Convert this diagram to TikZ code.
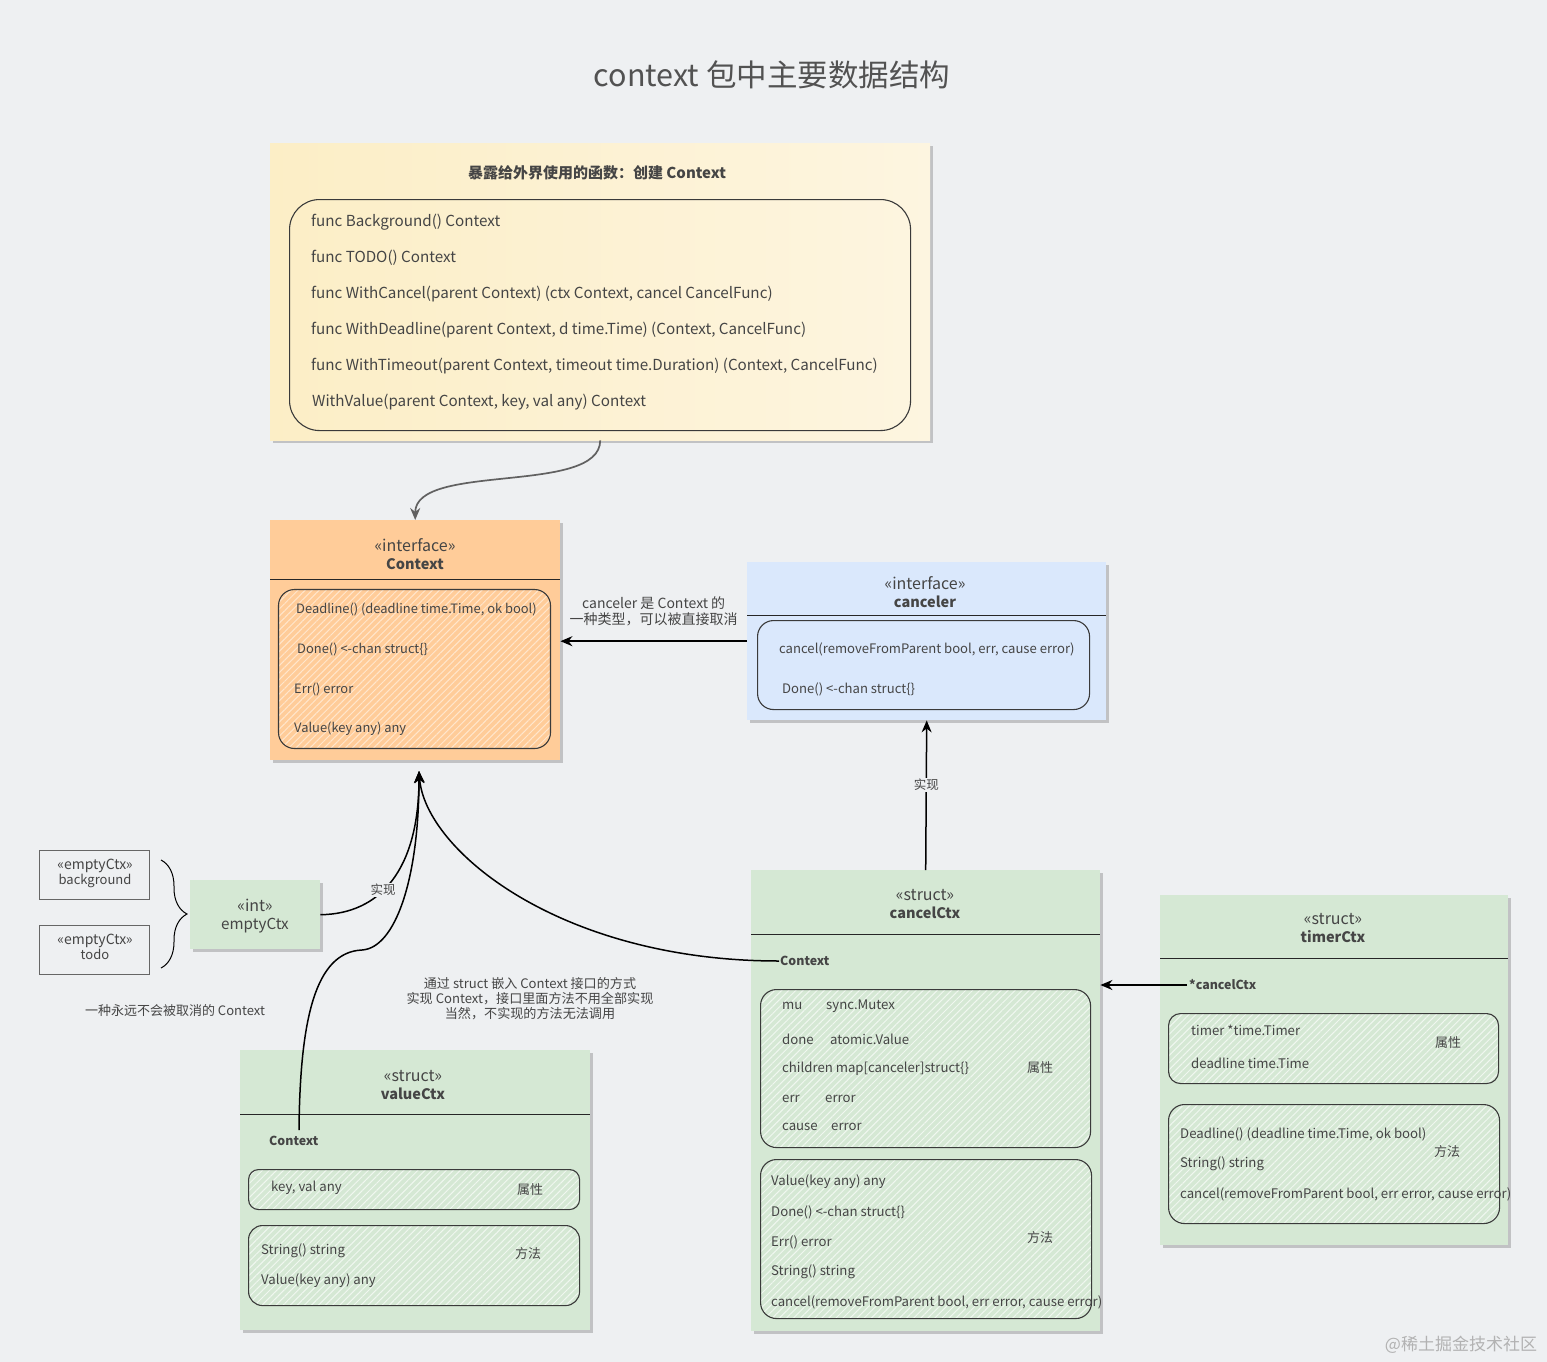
\documentclass[tikz,border=0pt]{standalone}
\usepackage{fontspec}
\setmainfont{Noto Sans CJK SC}
\usetikzlibrary{arrows.meta,patterns.meta,shadows,decorations.pathreplacing,calc}
\definecolor{bgc}{HTML}{EEF0F2}
\definecolor{txtc}{HTML}{454545}
\definecolor{linec}{HTML}{3A3A3A}
\definecolor{yel1}{HTML}{FCEEC6}
\definecolor{yel2}{HTML}{FDF5E0}
\definecolor{orc}{HTML}{FFCC99}
\definecolor{blc}{HTML}{DAE8FC}
\definecolor{grc}{HTML}{D5E8D4}
\newcommand\hnm[1]{{\fontsize{14.5}{18}\selectfont\bfseries #1}}
\tikzset{
  umlbox/.style={rectangle, inner sep=0pt, anchor=north west,
    drop shadow={shadow xshift=3pt, shadow yshift=-3pt, fill=black!45, opacity=0.45}},
  innerbox/.style={rectangle, rounded corners=16pt, draw=linec, line width=1.1pt,
    inner sep=0pt, anchor=north west},
  hatchO/.style={pattern={Lines[angle=45,distance=5pt,line width=1pt]}, pattern color=white!50!orc},
  hatchG/.style={pattern={Lines[angle=45,distance=5pt,line width=1pt]}, pattern color=white!65!grc},
  sepline/.style={line width=0.9pt, draw=black!85},
  tx/.style={inner sep=0pt, anchor=west, text=txtc, font=\fontsize{13.2}{16}\selectfont},
  tctxs/.style={inner sep=0pt, anchor=west, text=txtc, font=\fontsize{12.9}{16}\selectfont},
  tcan/.style={inner sep=0pt, anchor=west, text=txtc, font=\fontsize{13.1}{16}\selectfont},
  tb/.style={inner sep=0pt, anchor=west, text=txtc, font=\fontsize{12.4}{16}\selectfont\bfseries},
  ty/.style={inner sep=0pt, anchor=west, text=txtc, font=\fontsize{15.2}{19}\selectfont},
  hdr/.style={inner sep=0pt, align=center, text=txtc, font=\fontsize{16}{18}\selectfont},
  tag/.style={inner sep=0pt, text=txtc, font=\fontsize{13}{15}\selectfont},
  lbl/.style={fill=bgc, inner sep=1pt, text=txtc, font=\fontsize{12.5}{14}\selectfont},
  arr/.style={-{Stealth[length=12pt,width=10pt]}, line width=1.5pt, draw=black},
}
\begin{document}
\begin{tikzpicture}[x=1pt,y=-1pt]
\fill[bgc] (0,0) rectangle (1547,1362);
\useasboundingbox (0,0) rectangle (1547,1362);

% title
\node[inner sep=0pt, text=black!68, font=\fontsize{30.5}{36}\selectfont] (title) at (772,75) {context 包中主要数据结构};

% ---------- exported functions ----------
\node[umlbox, left color=yel1, right color=yel2, minimum width=660pt, minimum height=297pt] (funcs) at (270,143) {};
\node[inner sep=0pt, text=txtc, font=\fontsize{15}{18}\selectfont\bfseries] (funcshdr) at (597,173) {暴露给外界使用的函数：创建 Context};
\node[innerbox, rounded corners=30pt, minimum width=621pt, minimum height=231pt] (funcsin) at (289,199) {};
\node[ty] (f1) at (311,222) {func Background() Context};
\node[ty] (f2) at (311,258) {func TODO() Context};
\node[ty] (f3) at (311,294) {func WithCancel(parent Context) (ctx Context, cancel CancelFunc)};
\node[ty] (f4) at (311,330) {func WithDeadline(parent Context, d time.Time) (Context, CancelFunc)};
\node[ty] (f5) at (311,366) {func WithTimeout(parent Context, timeout time.Duration) (Context, CancelFunc)};
\node[ty] (f6) at (312,402) {WithValue(parent Context, key, val any) Context};

% ---------- Context interface ----------
\node[umlbox, fill=orc, minimum width=290pt, minimum height=240pt] (context) at (270,520) {};
\node[hdr] (contexthdr) at (415,554) {«interface»\\\hnm{Context}};
\draw[sepline] (270,579) -- (560,579);
\node[innerbox, hatchO, minimum width=272pt, minimum height=159pt] (contextin) at (278,589) {};
\node[tctxs] (c1) at (296,609) {Deadline() (deadline time.Time, ok bool)};
\node[tctxs] (c2) at (297,649) {Done() <-chan struct\{\}};
\node[tctxs] (c3) at (294,689) {Err() error};
\node[tctxs] (c4) at (294,729) {Value(key any) any};

% ---------- canceler interface ----------
\node[umlbox, fill=blc, minimum width=359pt, minimum height=158pt] (canceler) at (747,562) {};
\node[hdr] (cancelerhdr) at (925,592) {«interface»\\\hnm{canceler}};
\draw[sepline] (747,615) -- (1106,615);
\node[innerbox, minimum width=332pt, minimum height=89pt] (cancelerin) at (757,620) {};
\node[tcan] (k1) at (779,649) {cancel(removeFromParent bool, err, cause error)};
\node[tcan] (k2) at (782,689) {Done() <-chan struct\{\}};

% ---------- emptyCtx ----------
\node[rectangle, draw=black!60, line width=0.8pt, anchor=north west, minimum width=110pt, minimum height=49pt] (bg) at (39,850) {};
\node[tag] (bgtxt) at (95,874) {\begin{tabular}{@{}c@{}}{\fontsize{14}{16}\selectfont«emptyCtx»}\\background\end{tabular}};
\node[rectangle, draw=black!60, line width=0.8pt, anchor=north west, minimum width=110pt, minimum height=49pt] (todo) at (39,925) {};
\node[tag] (todotxt) at (95,949) {\begin{tabular}{@{}c@{}}{\fontsize{14}{16}\selectfont«emptyCtx»}\\todo\end{tabular}};
\coordinate (bt) at (161,860);
\coordinate (bb) at (161,968);
\draw[decorate, decoration={brace, amplitude=26pt}, line width=1pt] (bt) -- (bb);
\node[umlbox, fill=grc, minimum width=130pt, minimum height=69pt] (empty) at (190,880) {};
\node[hdr] (emptytxt) at (255,916) {«int»\\{\fontsize{15.2}{18}\selectfont emptyCtx}};
\node[tag] (emptynote) at (175,1011) {一种永远不会被取消的 Context};

% ---------- valueCtx ----------
\node[umlbox, fill=grc, minimum width=350pt, minimum height=280pt] (value) at (240,1050) {};
\node[hdr] (valuehdr) at (413,1085) {«struct»\\\hnm{valueCtx}};
\draw[sepline] (240,1114) -- (590,1114);
\node[tb] (vctx) at (269,1141) {Context};
\node[innerbox, hatchG, rounded corners=10pt, minimum width=331pt, minimum height=40pt] (valuein1) at (248,1169) {};
\node[tx] (v1) at (271,1188) {key, val any};
\node[tag] (v1t) at (530,1190) {属性};
\node[innerbox, hatchG, rounded corners=14pt, minimum width=331pt, minimum height=80pt] (valuein2) at (248,1225) {};
\node[tx] (v2) at (261,1251) {String() string};
\node[tx] (v3) at (261,1281) {Value(key any) any};
\node[tag] (v2t) at (528,1254) {方法};

% ---------- cancelCtx ----------
\node[umlbox, fill=grc, minimum width=349pt, minimum height=461pt] (cancelctx) at (751,870) {};
\node[hdr] (cancelctxhdr) at (925,904) {«struct»\\\hnm{cancelCtx}};
\draw[sepline] (751,934) -- (1100,934);
\node[tb] (cctx) at (780,961) {Context};
\node[innerbox, hatchG, minimum width=330pt, minimum height=158pt] (cancelin1) at (760,989) {};
\node[tx] (a1) at (782,1006) {mu};
\node[tx] (a1b) at (826,1006) {sync.Mutex};
\node[tx] (a2) at (782,1039) {done};
\node[tx] (a2b) at (830,1039) {atomic.Value};
\node[tx] (a3) at (782,1069) {children map[canceler]struct\{\}};
\node[tx] (a4) at (782,1099) {err};
\node[tx] (a4b) at (825,1099) {error};
\node[tx] (a5) at (782,1127) {cause};
\node[tx] (a5b) at (831,1127) {error};
\node[tag] (a1t) at (1040,1068) {属性};
\node[innerbox, hatchG, minimum width=331pt, minimum height=159pt] (cancelin2) at (760,1159) {};
\node[tx] (m1) at (771,1182) {Value(key any) any};
\node[tx] (m2) at (771,1212) {Done() <-chan struct\{\}};
\node[tx] (m3) at (771,1242) {Err() error};
\node[tx] (m4) at (771,1272) {String() string};
\node[tx] (m5) at (771,1302) {cancel(removeFromParent bool, err error, cause error)};
\node[tag] (m1t) at (1040,1238) {方法};

% ---------- timerCtx ----------
\node[umlbox, fill=grc, minimum width=348pt, minimum height=350pt] (timer) at (1160,895) {};
\node[hdr] (timerhdr) at (1333,928) {«struct»\\\hnm{timerCtx}};
\draw[sepline] (1160,958) -- (1508,958);
\node[tb] (tctx) at (1189,985) {*cancelCtx};
\node[innerbox, hatchG, rounded corners=12pt, minimum width=330pt, minimum height=70pt] (timerin1) at (1168,1013) {};
\node[tx] (t1) at (1191,1030) {timer *time.Timer};
\node[tx] (t2) at (1191,1063) {deadline time.Time};
\node[tag] (t1t) at (1448,1043) {属性};
\node[innerbox, hatchG, minimum width=331pt, minimum height=119pt] (timerin2) at (1168,1104) {};
\node[tx] (t3) at (1180,1134) {Deadline() (deadline time.Time, ok bool)};
\node[tx] (t4) at (1180,1164) {String() string};
\node[tx] (t5) at (1180,1194) {cancel(removeFromParent bool, err error, cause error)};
\node[tag] (t2t) at (1447,1152) {方法};

% ---------- notes ----------
\node[inner sep=0pt, align=center, text=txtc, font=\fontsize{13.1}{15}\selectfont] (embednote) at (530,999)
  {通过 struct 嵌入 Context 接口的方式\\实现 Context，接口里面方法不用全部实现\\当然，不实现的方法无法调用};
\node[inner sep=0pt, text=black!30, font=\fontsize{17}{20}\selectfont] (wm) at (1461,1345) {@稀土掘金技术社区};

% ---------- connectors ----------
\draw[-{Stealth[length=12pt,width=10pt]}, line width=1.7pt, draw=black!62]
  (funcs.south) .. controls +(0,55) and +(0,-58) .. (context.north);

\draw[arr] (canceler.west) -- (canceler.west -| context.east)
  node[midway, above=14pt, inner sep=0pt, align=center, text=txtc, font=\fontsize{14}{16}\selectfont] (cancellbl)
  {canceler 是 Context 的\\一种类型，可以被直接取消};

\draw[arr] (cancelctx.north) -- (canceler.south) node[pos=0.57, lbl] (impl1) {实现};

\coordinate (apex) at (419,771);
\coordinate (vstart) at (299,1130);
\coordinate (cstart) at (779,961);
\coordinate (tstart) at (1187,985);

\draw[arr] (empty.east) .. controls (380,914) and (419,870) .. (apex)
  node[pos=0.42, lbl] (impl2) {实现};
\draw[arr] (vstart) .. controls (300,1020) and (315,952) .. (362,950)
  .. controls (395,948) and (419,880) .. (apex);
\draw[arr] (cstart) .. controls (560,961) and (425,850) .. (apex);
\draw[arr] (tstart) -- (tstart -| cancelctx.east);
\end{tikzpicture}
\end{document}
